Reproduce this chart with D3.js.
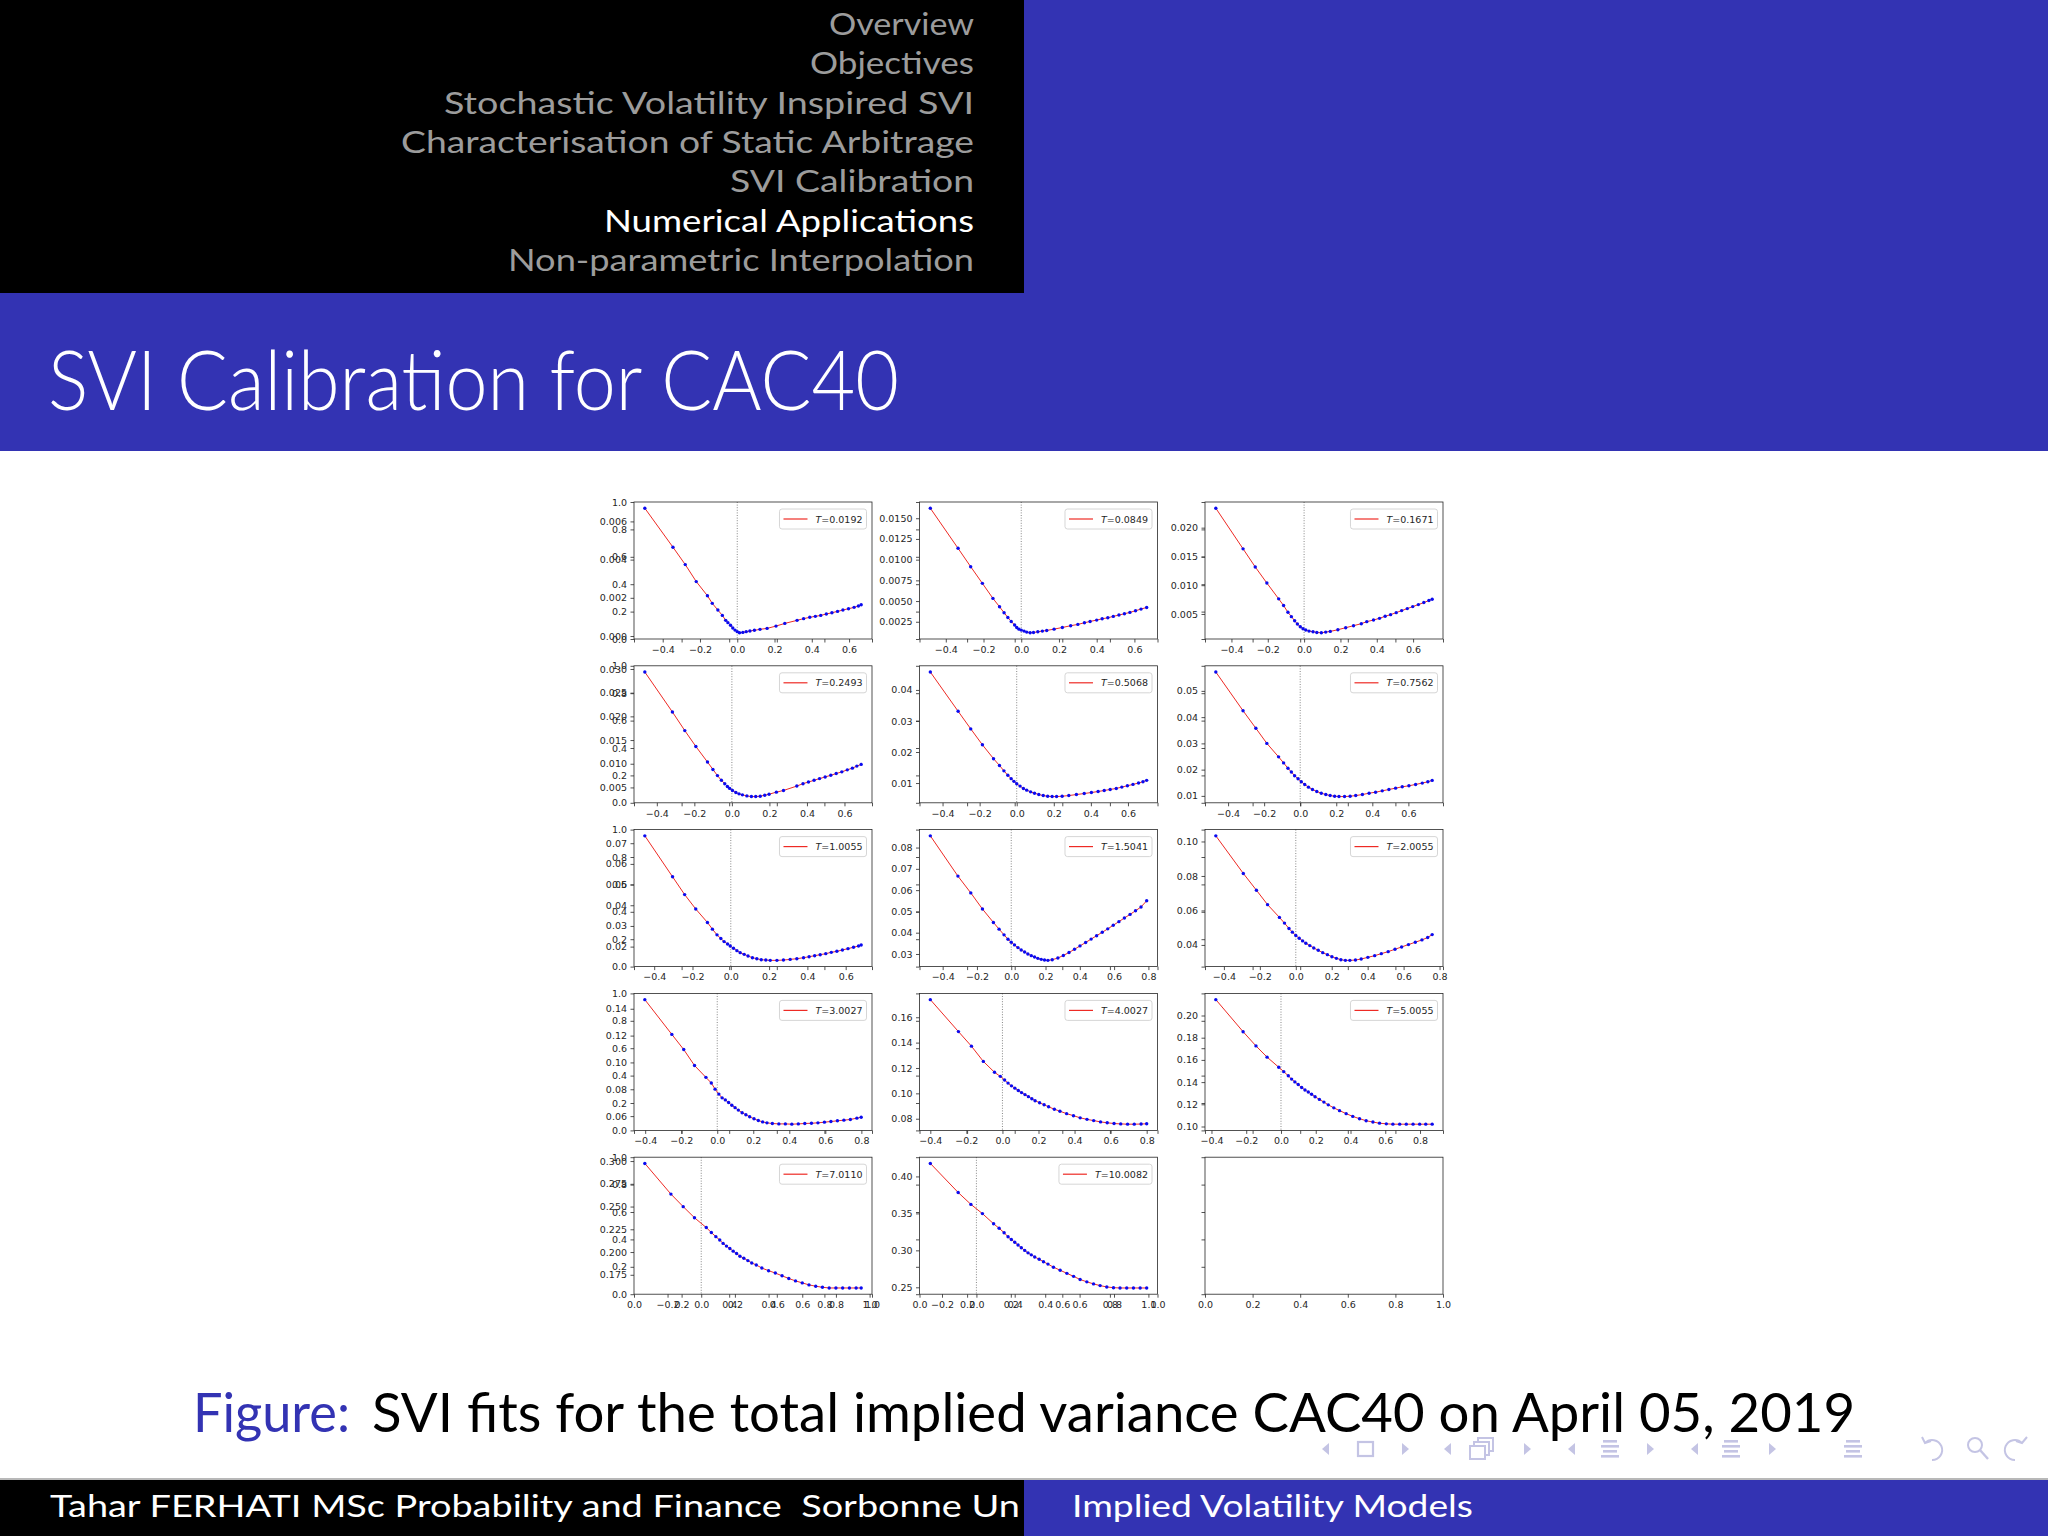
<!DOCTYPE html>
<html><head><meta charset="utf-8">
<script src="https://cdnjs.cloudflare.com/ajax/libs/d3/7.8.5/d3.min.js"></script>
<style>body{margin:0;background:#fff}svg{display:block}text{white-space:pre}</style>
</head><body>
<svg id="c" width="2048" height="1536"></svg>
<script>
// ---------------- DATA ----------------
const navItems = ["Overview","Objectives","Stochastic Volatility Inspired SVI","Characterisation of Static Arbitrage","SVI Calibration","Numerical Applications","Non-parametric Interpolation"];
const navCurrent = "Numerical Applications";
const slideTitle = "SVI Calibration for CAC40";
const captionLabel = "Figure:";
const captionText = "SVI fits for the total implied variance CAC40 on April 05, 2019";
const footerLeft = "Tahar FERHATI MSc Probability and Finance  Sorbonne Un";
const footerRight = "Implied Volatility Models";

const maturities = ["0.0192","0.0849","0.1671","0.2493","0.5068","0.7562","1.0055","1.5041","2.0055","3.0027","4.0027","5.0055","7.0110","10.0082"];

const k1 = [-0.496,-0.345,-0.279,-0.220,-0.160,-0.134,-0.104,-0.080,-0.062,-0.050,-0.036,-0.024,-0.012,0.000,0.012,0.030,0.048,0.068,0.092,0.122,0.160,0.208,0.255,0.321,0.356,0.389,0.419,0.448,0.478,0.508,0.538,0.567,0.597,0.627,0.650,0.665];
const w1 = [0.00669,0.00465,0.00374,0.00285,0.00211,0.00171,0.00136,0.00108,0.00082,0.00070,0.00056,0.00042,0.00031,0.00023,0.00017,0.00019,0.00023,0.00026,0.00030,0.00035,0.00040,0.00052,0.00066,0.00082,0.00091,0.00098,0.00103,0.00108,0.00115,0.00122,0.00129,0.00136,0.00143,0.00150,0.00157,0.00164];
const k2 = [-0.482,-0.335,-0.268,-0.206,-0.150,-0.115,-0.091,-0.071,-0.053,-0.035,-0.024,-0.012,0.000,0.015,0.029,0.047,0.065,0.088,0.112,0.135,0.174,0.218,0.262,0.300,0.335,0.365,0.400,0.429,0.459,0.488,0.518,0.547,0.576,0.606,0.635,0.665];
const w2 = [0.01621,0.01137,0.00915,0.00714,0.00532,0.00431,0.00359,0.00302,0.00254,0.00210,0.00181,0.00161,0.00149,0.00137,0.00125,0.00117,0.00121,0.00129,0.00137,0.00145,0.00161,0.00181,0.00202,0.00218,0.00238,0.00254,0.00270,0.00286,0.00298,0.00315,0.00331,0.00347,0.00363,0.00383,0.00403,0.00423];
const k3 = [-0.486,-0.336,-0.269,-0.205,-0.140,-0.113,-0.089,-0.070,-0.052,-0.037,-0.021,-0.006,0.009,0.027,0.049,0.070,0.095,0.119,0.144,0.186,0.229,0.272,0.315,0.345,0.382,0.415,0.446,0.476,0.507,0.537,0.568,0.598,0.629,0.659,0.687,0.705];
const w3 = [0.02338,0.01632,0.01317,0.01037,0.00763,0.00646,0.00529,0.00453,0.00383,0.00325,0.00278,0.00243,0.00220,0.00202,0.00191,0.00179,0.00173,0.00185,0.00197,0.00226,0.00261,0.00296,0.00331,0.00366,0.00395,0.00424,0.00459,0.00488,0.00523,0.00558,0.00593,0.00628,0.00663,0.00698,0.00733,0.00757];
const k4 = [-0.464,-0.317,-0.251,-0.192,-0.130,-0.101,-0.077,-0.056,-0.038,-0.024,-0.012,0.003,0.021,0.038,0.056,0.080,0.104,0.127,0.151,0.175,0.198,0.237,0.275,0.346,0.379,0.408,0.438,0.467,0.497,0.527,0.556,0.586,0.615,0.642,0.666,0.689];
const w4 = [0.02936,0.02093,0.01700,0.01364,0.01036,0.00879,0.00750,0.00650,0.00579,0.00521,0.00479,0.00436,0.00393,0.00364,0.00343,0.00321,0.00307,0.00307,0.00314,0.00336,0.00357,0.00400,0.00436,0.00529,0.00579,0.00614,0.00650,0.00686,0.00721,0.00757,0.00793,0.00829,0.00871,0.00907,0.00950,0.00986];
const k5 = [-0.466,-0.316,-0.248,-0.185,-0.125,-0.093,-0.069,-0.048,-0.030,-0.015,0.000,0.018,0.036,0.054,0.075,0.096,0.119,0.143,0.167,0.191,0.215,0.245,0.281,0.322,0.364,0.403,0.439,0.472,0.504,0.537,0.567,0.597,0.627,0.657,0.681,0.701];
const w5 = [0.04577,0.03312,0.02745,0.02232,0.01785,0.01567,0.01393,0.01251,0.01142,0.01055,0.00978,0.00902,0.00826,0.00771,0.00716,0.00673,0.00629,0.00597,0.00575,0.00564,0.00564,0.00575,0.00597,0.00629,0.00662,0.00695,0.00727,0.00760,0.00793,0.00826,0.00869,0.00913,0.00956,0.01000,0.01044,0.01087];
const k6 = [-0.468,-0.317,-0.246,-0.185,-0.120,-0.092,-0.068,-0.049,-0.031,-0.012,0.006,0.025,0.046,0.068,0.092,0.117,0.142,0.166,0.191,0.215,0.246,0.277,0.308,0.345,0.382,0.418,0.455,0.492,0.529,0.566,0.603,0.640,0.677,0.708,0.732];
const w6 = [0.05718,0.04244,0.03577,0.03000,0.02487,0.02256,0.02051,0.01910,0.01769,0.01654,0.01538,0.01436,0.01333,0.01244,0.01167,0.01103,0.01051,0.01013,0.00987,0.00974,0.00974,0.00987,0.01013,0.01051,0.01103,0.01141,0.01192,0.01244,0.01295,0.01346,0.01385,0.01436,0.01487,0.01538,0.01590];
const k7 = [-0.449,-0.304,-0.241,-0.183,-0.122,-0.096,-0.072,-0.052,-0.035,-0.017,-0.003,0.014,0.032,0.049,0.070,0.090,0.113,0.136,0.159,0.183,0.206,0.241,0.275,0.310,0.345,0.380,0.409,0.438,0.467,0.496,0.525,0.554,0.583,0.612,0.641,0.667,0.681];
const w7 = [0.07357,0.05376,0.04516,0.03818,0.03169,0.02844,0.02568,0.02390,0.02243,0.02130,0.02032,0.01919,0.01805,0.01708,0.01627,0.01546,0.01464,0.01416,0.01367,0.01351,0.01335,0.01335,0.01351,0.01383,0.01416,0.01464,0.01513,0.01562,0.01610,0.01659,0.01724,0.01773,0.01838,0.01903,0.01968,0.02032,0.02081];
const k8 = [-0.472,-0.311,-0.236,-0.168,-0.104,-0.071,-0.042,-0.019,0.000,0.019,0.039,0.058,0.078,0.097,0.117,0.136,0.155,0.175,0.194,0.214,0.239,0.272,0.304,0.337,0.369,0.401,0.434,0.466,0.498,0.531,0.563,0.595,0.628,0.660,0.693,0.725,0.757,0.790];
const w8 = [0.08551,0.06659,0.05870,0.05113,0.04482,0.04167,0.03899,0.03694,0.03552,0.03426,0.03300,0.03189,0.03095,0.03000,0.02921,0.02858,0.02795,0.02748,0.02716,0.02700,0.02730,0.02810,0.02930,0.03070,0.03220,0.03380,0.03540,0.03700,0.03860,0.04020,0.04180,0.04350,0.04520,0.04690,0.04860,0.05030,0.05210,0.05500];
const k9 = [-0.445,-0.292,-0.219,-0.157,-0.091,-0.063,-0.038,-0.019,0.000,0.019,0.038,0.056,0.078,0.100,0.125,0.150,0.176,0.201,0.226,0.251,0.276,0.301,0.332,0.364,0.401,0.439,0.476,0.514,0.552,0.589,0.627,0.665,0.702,0.734,0.759];
const w9 = [0.10328,0.08147,0.07174,0.06336,0.05597,0.05266,0.04954,0.04740,0.04545,0.04389,0.04234,0.04097,0.03961,0.03825,0.03688,0.03552,0.03435,0.03318,0.03221,0.03143,0.03104,0.03104,0.03124,0.03182,0.03280,0.03377,0.03494,0.03611,0.03747,0.03883,0.04020,0.04156,0.04292,0.04428,0.04600];
const k10 = [-0.402,-0.252,-0.186,-0.126,-0.063,-0.033,-0.012,0.009,0.027,0.045,0.063,0.081,0.099,0.117,0.138,0.159,0.180,0.204,0.228,0.252,0.276,0.306,0.342,0.378,0.414,0.450,0.486,0.523,0.559,0.595,0.631,0.667,0.703,0.739,0.775,0.799];
const w10 = [0.1468,0.1209,0.1096,0.0977,0.0889,0.0847,0.0801,0.0764,0.0736,0.0721,0.0701,0.0681,0.0663,0.0645,0.0625,0.0610,0.0595,0.0580,0.0567,0.0557,0.0550,0.0545,0.0542,0.0542,0.0540,0.0542,0.0545,0.0547,0.0550,0.0555,0.0560,0.0565,0.0570,0.0575,0.0585,0.0592];
const k11 = [-0.400,-0.244,-0.172,-0.106,-0.044,-0.012,0.012,0.031,0.050,0.069,0.088,0.106,0.125,0.144,0.163,0.181,0.206,0.231,0.256,0.288,0.319,0.356,0.394,0.431,0.469,0.506,0.544,0.581,0.619,0.656,0.694,0.731,0.769,0.800];
const w11 = [0.1739,0.1487,0.1372,0.1252,0.1166,0.1134,0.1105,0.1081,0.1059,0.1041,0.1022,0.1006,0.0990,0.0974,0.0958,0.0942,0.0926,0.0910,0.0894,0.0875,0.0859,0.0840,0.0824,0.0807,0.0795,0.0785,0.0775,0.0768,0.0762,0.0759,0.0757,0.0757,0.0758,0.0760];
const k12 = [-0.375,-0.218,-0.144,-0.080,-0.013,0.016,0.042,0.061,0.080,0.099,0.119,0.138,0.157,0.176,0.196,0.221,0.247,0.272,0.304,0.337,0.375,0.413,0.452,0.490,0.529,0.567,0.606,0.644,0.683,0.721,0.760,0.798,0.833,0.870];
const w12 = [0.2143,0.1854,0.1726,0.1625,0.1534,0.1494,0.1457,0.1427,0.1402,0.1378,0.1351,0.1329,0.1311,0.1290,0.1268,0.1244,0.1220,0.1195,0.1168,0.1143,0.1116,0.1091,0.1070,0.1052,0.1040,0.1030,0.1024,0.1021,0.1021,0.1021,0.1021,0.1021,0.1021,0.1021];
const k13 = [-0.335,-0.180,-0.107,-0.040,0.030,0.060,0.087,0.110,0.130,0.150,0.170,0.190,0.210,0.230,0.253,0.277,0.300,0.327,0.360,0.400,0.440,0.480,0.520,0.560,0.600,0.640,0.680,0.720,0.760,0.800,0.840,0.880,0.920,0.950];
const w13 = [0.2974,0.2637,0.2499,0.2377,0.2269,0.2214,0.2169,0.2132,0.2095,0.2065,0.2039,0.2010,0.1984,0.1954,0.1932,0.1906,0.1880,0.1858,0.1824,0.1795,0.1769,0.1739,0.1709,0.1683,0.1661,0.1639,0.1624,0.1613,0.1605,0.1605,0.1605,0.1605,0.1605,0.1605];
const k14 = [-0.268,-0.106,-0.032,0.035,0.100,0.132,0.161,0.184,0.203,0.223,0.242,0.261,0.281,0.300,0.319,0.339,0.365,0.390,0.416,0.448,0.487,0.526,0.565,0.603,0.642,0.681,0.719,0.758,0.797,0.835,0.874,0.913,0.952,0.990];
const w14 = [0.4176,0.3783,0.3622,0.3497,0.3359,0.3299,0.3239,0.3183,0.3146,0.3109,0.3073,0.3036,0.2999,0.2966,0.2939,0.2911,0.2879,0.2846,0.2814,0.2772,0.2731,0.2689,0.2648,0.2606,0.2574,0.2546,0.2523,0.2505,0.2495,0.2491,0.2491,0.2491,0.2491,0.2491];

const xTickValues = [-0.6,-0.4,-0.2,0.0,0.2,0.4,0.6,0.8,1.0];
const baseTickValues = [0.0,0.2,0.4,0.6,0.8,1.0];
const yTicks1 = [0.000,0.002,0.004,0.006];
const yTicks2 = [0.0025,0.0050,0.0075,0.0100,0.0125,0.0150];
const yTicks3 = [0.005,0.010,0.015,0.020];
const yTicks4 = [0.000,0.005,0.010,0.015,0.020,0.025,0.030];
const yTicks5 = [0.01,0.02,0.03,0.04];
const yTicks6 = [0.01,0.02,0.03,0.04,0.05];
const yTicks7 = [0.02,0.03,0.04,0.05,0.06,0.07];
const yTicks8 = [0.03,0.04,0.05,0.06,0.07,0.08];
const yTicks9 = [0.04,0.06,0.08,0.10];
const yTicks10 = [0.06,0.08,0.10,0.12,0.14];
const yTicks11 = [0.08,0.10,0.12,0.14,0.16];
const yTicks12 = [0.10,0.12,0.14,0.16,0.18,0.20];
const yTicks13 = [0.175,0.200,0.225,0.250,0.275,0.300];
const yTicks14 = [0.25,0.30,0.35,0.40];
const yDecimals = [3,4,3,3,2,2,2,2,2,2,2,2,3,2];

// ---------------- DRAW ----------------
const svg = d3.select("#c");
const BLUE = "#3333b3";
const SANS = "Lato, 'Open Sans', 'DejaVu Sans', sans-serif";

svg.append("rect").attr("width",2048).attr("height",1536).attr("fill","#fff");
// header
svg.append("rect").attr("x",0).attr("y",0).attr("width",1024).attr("height",293).attr("fill","#000");
svg.append("rect").attr("x",1024).attr("y",0).attr("width",1024).attr("height",293).attr("fill",BLUE);
svg.append("rect").attr("x",0).attr("y",293).attr("width",2048).attr("height",158).attr("fill",BLUE);

const navWidths = [145,164,530,573,244,370,466];
navItems.forEach((t,i)=>{
  svg.append("text").attr("x",974).attr("y",35+i*39.3)
    .attr("text-anchor","end").attr("font-family",SANS).attr("font-size",30)
    .attr("fill", t===navCurrent ? "#ffffff" : "#9c9c9c")
    .attr("textLength",navWidths[i]).attr("lengthAdjust","spacingAndGlyphs")
    .text(t);
});
svg.append("text").attr("x",48).attr("y",410).attr("font-family",SANS).attr("font-weight",300)
  .attr("font-size",82).attr("fill","#fff").attr("textLength",851).attr("lengthAdjust","spacingAndGlyphs")
  .text(slideTitle);

// caption
svg.append("text").attr("x",193).attr("y",1432).attr("font-family",SANS).attr("font-size",54)
  .attr("fill",BLUE).attr("textLength",157).attr("lengthAdjust","spacingAndGlyphs").text(captionLabel);
svg.append("text").attr("x",372).attr("y",1432).attr("font-family",SANS).attr("font-size",54)
  .attr("fill","#000").attr("textLength",1483).attr("lengthAdjust","spacingAndGlyphs").text(captionText);

// footer
svg.append("rect").attr("x",0).attr("y",1478).attr("width",2048).attr("height",2).attr("fill","#b8b8b8");
svg.append("rect").attr("x",0).attr("y",1480).attr("width",1024).attr("height",56).attr("fill","#000");
svg.append("rect").attr("x",1024).attr("y",1480).attr("width",1024).attr("height",56).attr("fill",BLUE);
svg.append("text").attr("x",50).attr("y",1517).attr("font-family",SANS).attr("font-size",31)
  .attr("fill","#fff").attr("textLength",970).attr("lengthAdjust","spacingAndGlyphs").text(footerLeft);
svg.append("text").attr("x",1072).attr("y",1517).attr("font-family",SANS).attr("font-size",31)
  .attr("fill","#fff").attr("textLength",401).attr("lengthAdjust","spacingAndGlyphs").text(footerRight);

// beamer navigation symbols
const nav = svg.append("g").attr("fill","#c4c4e4").attr("stroke","#c4c4e4");
const triL = x => nav.append("path").attr("stroke","none").attr("d",`M${x+7},1443 L${x},1449 L${x+7},1455 Z`);
const triR = x => nav.append("path").attr("stroke","none").attr("d",`M${x},1443 L${x+7},1449 L${x},1455 Z`);
const bars = (x,w) => { [1440,1445,1450,1455].forEach((y,j)=>nav.append("rect").attr("stroke","none")
   .attr("x",x+(j%2?0:2)).attr("y",y).attr("width",w-(j%2?0:4)).attr("height",2.6)); };
triL(1322); nav.append("rect").attr("x",1358).attr("y",1442).attr("width",15).attr("height",14).attr("fill","none").attr("stroke-width",2.2); triR(1402);
triL(1444);
nav.append("rect").attr("x",1478).attr("y",1438).attr("width",15).attr("height",13).attr("fill","none").attr("stroke-width",2);
nav.append("rect").attr("x",1474).attr("y",1442).attr("width",15).attr("height",13).attr("fill","#fff").attr("stroke-width",2);
nav.append("rect").attr("x",1470).attr("y",1446).attr("width",15).attr("height",13).attr("fill","#fff").attr("stroke-width",2);
triR(1524);
triL(1568); bars(1601,18); triR(1647);
triL(1691); bars(1722,18); triR(1769);
bars(1844,18);
nav.append("path").attr("fill","none").attr("stroke-width",2).attr("d","M1932,1460 A10,10 0 1 0 1925,1443 M1922,1437 L1925,1443 L1931,1441");
nav.append("circle").attr("cx",1975).attr("cy",1445).attr("r",7).attr("fill","none").attr("stroke-width",2);
nav.append("path").attr("fill","none").attr("stroke-width",2.4).attr("d","M1980,1450 L1988,1459");
nav.append("path").attr("fill","none").attr("stroke-width",2).attr("d","M2015,1460 A10,10 0 1 1 2022,1443 M2027,1437 L2022,1443 L2016,1441");

// -------- subplot grid --------
const ks=[k1,k2,k3,k4,k5,k6,k7,k8,k9,k10,k11,k12,k13,k14];
const ws=[w1,w2,w3,w4,w5,w6,w7,w8,w9,w10,w11,w12,w13,w14];
const yts=[yTicks1,yTicks2,yTicks3,yTicks4,yTicks5,yTicks6,yTicks7,yTicks8,yTicks9,yTicks10,yTicks11,yTicks12,yTicks13,yTicks14];
const colX=[634,919.5,1205], rowY=[502,665.8,829.6,993.4,1157.2], PW=238, PH=137;
const FS=9.5, TF="'DejaVu Sans', sans-serif", INK="#262626";

function styleAxis(g){
  g.select(".domain").remove();
  g.attr("font-family",TF).attr("font-size",FS);
  g.selectAll("line").attr("stroke",INK).attr("stroke-width",0.8);
  g.selectAll("text").attr("fill",INK);
}
const padDomain = arr => { const e=d3.extent(arr), p=(e[1]-e[0])*0.05; return [e[0]-p,e[1]+p]; };

const grid = svg.append("g");
for(let i=0;i<15;i++){
  const r=Math.floor(i/3), c=i%3;
  const L=colX[c], T=rowY[r], R=L+PW, B=T+PH;
  const g=grid.append("g");
  // base (shared, empty) axes
  const bx=d3.scaleLinear([0,1],[L,R]), by=d3.scaleLinear([0,1],[B,T]);
  g.append("rect").attr("x",L).attr("y",T).attr("width",PW).attr("height",PH).attr("fill","#fff");
  styleAxis(g.append("g").attr("transform",`translate(0,${B})`)
    .call(d3.axisBottom(bx).tickValues(baseTickValues).tickSize(3.5).tickPadding(3.5)
      .tickFormat(r===4 ? d3.format(".1f") : ()=>"")));
  styleAxis(g.append("g").attr("transform",`translate(${L},0)`)
    .call(d3.axisLeft(by).tickValues(baseTickValues).tickSize(3.5).tickPadding(3.5)
      .tickFormat(c===0 ? d3.format(".1f") : ()=>"")));
  if(i<14){
    const kx=ks[i], wy=ws[i];
    const x=d3.scaleLinear(padDomain(kx),[L,R]);
    const y=d3.scaleLinear(padDomain(wy),[B,T]);
    const pts=kx.map((k,j)=>[k,wy[j]]);
    g.append("rect").attr("x",L).attr("y",T).attr("width",PW).attr("height",PH).attr("fill","#fff");
    const xd=x.domain(), yd=y.domain();
    styleAxis(g.append("g").attr("transform",`translate(0,${B})`)
      .call(d3.axisBottom(x).tickValues(xTickValues.filter(v=>v>=xd[0]-1e-9&&v<=xd[1]+1e-9))
        .tickSize(3.5).tickPadding(3.5).tickFormat(d3.format(".1f"))));
    styleAxis(g.append("g").attr("transform",`translate(${L},0)`)
      .call(d3.axisLeft(y).tickValues(yts[i].filter(v=>v>=yd[0]&&v<=yd[1]))
        .tickSize(3.5).tickPadding(3.5).tickFormat(d3.format("."+yDecimals[i]+"f"))));
    // zero line
    g.append("line").attr("x1",x(0)).attr("x2",x(0)).attr("y1",T).attr("y2",B)
      .attr("stroke","#555").attr("stroke-width",0.7).attr("stroke-dasharray","1 1.6");
    // fitted curve
    g.append("path").datum(pts).attr("fill","none").attr("stroke","#ee2a24").attr("stroke-width",1)
      .attr("d",d3.line().x(d=>x(d[0])).y(d=>y(d[1])));
    // market points
    g.selectAll("circle.pt").data(pts).join("circle").attr("class","pt")
      .attr("cx",d=>x(d[0])).attr("cy",d=>y(d[1])).attr("r",1.7).attr("fill","#0a0af0");
    // legend
    const lg=g.append("g");
    const box=lg.append("rect");
    const txt=lg.append("text").attr("font-family",TF).attr("font-size",FS).attr("fill",INK);
    txt.append("tspan").attr("font-style","italic").text("T");
    txt.append("tspan").text("="+maturities[i]);
    const tw=txt.node().getComputedTextLength();
    const bw=36+tw+4, bh=20, bxl=R-5.5-bw, byt=T+7;
    box.attr("x",bxl).attr("y",byt).attr("width",bw).attr("height",bh).attr("rx",2.5)
      .attr("fill","#fff").attr("fill-opacity",0.8).attr("stroke","#cccccc").attr("stroke-width",0.8);
    txt.attr("x",bxl+36).attr("y",byt+13.5);
    lg.append("line").attr("x1",bxl+4).attr("x2",bxl+28).attr("y1",byt+10).attr("y2",byt+10)
      .attr("stroke","#ee2a24").attr("stroke-width",1.2);
  }
  g.append("rect").attr("x",L).attr("y",T).attr("width",PW).attr("height",PH)
    .attr("fill","none").attr("stroke","#262626").attr("stroke-width",0.8);
}
</script>
</body></html>
